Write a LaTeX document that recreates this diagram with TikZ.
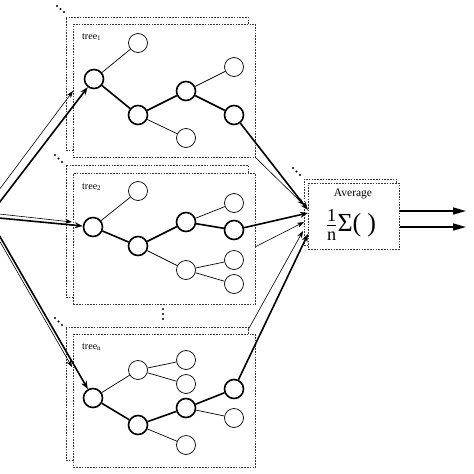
\documentclass[tikz,border=0pt]{standalone}
\usepackage{fontspec}
\setmainfont{Liberation Serif}
\usetikzlibrary{arrows.meta}
\begin{document}
\begin{tikzpicture}[x=1pt,y=-1pt,
  thk/.style={circle,draw,line width=1.6pt,minimum size=19pt,inner sep=0pt},
  thn/.style={circle,draw,line width=0.7pt,minimum size=19pt,inner sep=0pt},
  ethk/.style={line width=1.6pt},
  ethn/.style={line width=0.7pt},
  frame/.style={draw=black!80,dash pattern=on 1.6pt off 1.2pt,line width=0.7pt},
  fbox/.style={frame,anchor=north west,inner sep=0pt},
  inthk/.style={line width=1.6pt,-{Stealth[length=8pt,width=6pt]}},
  inthn/.style={line width=0.6pt,-{Stealth[length=7pt,width=5pt]}},
  outarr/.style={line width=1.4pt,-{Triangle[length=13pt,width=7pt]}},
  lbl/.style={font=\fontsize{10}{10}\selectfont,inner sep=0pt}
]
\useasboundingbox (0,0) rectangle (474,474);

% ---------- frames ----------
\node[fbox,minimum width=182pt,minimum height=133pt] (f1) at (73,24) {};
\draw[frame] (248,24) -- (248,17) -- (66,17) -- (66,150) -- (73,150);
\node[fbox,minimum width=182pt,minimum height=131pt] (f2) at (73,173) {};
\draw[frame] (248,173) -- (248,165) -- (66,165) -- (66,297) -- (73,297);
\node[fbox,minimum width=182pt,minimum height=133pt] (f3) at (73,334) {};
\draw[frame] (248,334) -- (248,327) -- (66,327) -- (66,460) -- (73,460);
\node[fbox,minimum width=91pt,minimum height=66pt] (fa) at (308,183) {};
\draw[frame] (396,183) -- (396,179) -- (304,179) -- (304,245) -- (308,245);

% dots
\foreach \x/\y in {57/6,60.5/9,64/12, 55/155,58.5/158.5,62/162, 55/318,58.5/321.5,62/325, 293/168,296.5/171.5,300/175}
  \fill (\x,\y) circle (1.1pt);
\foreach \y in {309,314,319} \fill (163,\y) circle (1.1pt);

% labels
\node[lbl,anchor=west] (l1) at (82,37) {tree\textsubscript{1}};
\node[lbl,anchor=west] (l2) at (82,187) {tree\textsubscript{2}};
\node[lbl,anchor=west] (l3) at (82,347) {tree\textsubscript{n}};
\node[font=\fontsize{11.5}{11.5}\selectfont,inner sep=0pt] (avl) at (353,194) {Average};
\node[font=\fontsize{26}{26}\selectfont,inner sep=0pt] (avf) at (351,225) {$\frac{\mathrm{1}}{\mathrm{n}}$Σ(\hspace{6pt})};

% ---------- tree 1 ----------
\node[thk] (a1) at (94,79) {};
\node[thn] (a1l) at (138,43) {};
\node[thk] (a2) at (138,115) {};
\node[thn] (a2l) at (186,138) {};
\node[thk] (a3) at (186,91) {};
\node[thn] (a3l) at (234,67) {};
\node[thk] (a4) at (234,115) {};
\draw[ethk] (a1) -- (a2); \draw[ethk] (a2) -- (a3); \draw[ethk] (a3) -- (a4);
\draw[ethn] (a1) -- (a1l); \draw[ethn] (a2) -- (a2l); \draw[ethn] (a3) -- (a3l);

% ---------- tree 2 ----------
\node[thk] (b1) at (93,227) {};
\node[thn] (b1l) at (138,191) {};
\node[thk] (b2) at (138,246) {};
\node[thk] (b3) at (186,222) {};
\node[thn] (b3l) at (234,203) {};
\node[thk] (b4) at (234,230) {};
\node[thn] (b5) at (186,270) {};
\node[thn] (b5a) at (234,260) {};
\node[thn] (b5b) at (234,284) {};
\draw[ethk] (b1) -- (b2); \draw[ethk] (b2) -- (b3); \draw[ethk] (b3) -- (b4);
\draw[ethn] (b1) -- (b1l); \draw[ethn] (b3) -- (b3l); \draw[ethn] (b2) -- (b5);
\draw[ethn] (b5) -- (b5a); \draw[ethn] (b5) -- (b5b);

% ---------- tree n ----------
\node[thk] (c1) at (93,398) {};
\node[thn] (c5) at (138,370) {};
\node[thn] (c5a) at (186,360) {};
\node[thn] (c5b) at (186,384) {};
\node[thk] (c2) at (138,425) {};
\node[thn] (c2l) at (186,445) {};
\node[thk] (c3) at (186,408) {};
\node[thn] (c3l) at (234,418) {};
\node[thk] (c4) at (234,389) {};
\draw[ethk] (c1) -- (c2); \draw[ethk] (c2) -- (c3); \draw[ethk] (c3) -- (c4);
\draw[ethn] (c1) -- (c5); \draw[ethn] (c5) -- (c5a); \draw[ethn] (c5) -- (c5b);
\draw[ethn] (c2) -- (c2l); \draw[ethn] (c3) -- (c3l);

% ---------- inputs ----------
\coordinate (s1a) at (-1,190); \coordinate (e1a) at (73,91);
\coordinate (s1b) at (-1,203);
\coordinate (s2a) at (-1,214); \coordinate (e2a) at (72,222);
\coordinate (s2b) at (-1,218);
\coordinate (s3a) at (-1,240); \coordinate (e3a) at (72,367);
\coordinate (s3b) at (-1,235);
\draw[inthn] (s1a) -- (e1a);
\draw[inthk] (s1b) -- (a1);
\draw[inthn] (s2a) -- (e2a);
\draw[inthk] (s2b) -- (b1);
\draw[inthn] (s3a) -- (e3a);
\draw[inthk] (s3b) -- (c1);

% ---------- to average ----------
\coordinate (t1a) at (304,205); \coordinate (t1b) at (308,210);
\coordinate (t2a) at (304,222); \coordinate (t2b) at (308,213);
\coordinate (t3a) at (303,231); \coordinate (t3b) at (308,234);
\coordinate (o1) at (255,157); \coordinate (o2) at (255,247); \coordinate (o3) at (248,330);
\draw[inthk] (a4) -- (t1b);
\draw[inthn] (o1) -- (t1a);
\draw[inthk] (b4) -- (t2b);
\draw[inthn] (o2) -- (t2a);
\draw[inthk] (c4) -- (t3b);
\draw[inthn] (o3) -- (t3a);

% ---------- outputs ----------
\coordinate (u1) at (466,211); \coordinate (u2) at (466,227);
\draw[outarr] (fa.east |- u1) -- (u1);
\draw[outarr] (fa.east |- u2) -- (u2);
\end{tikzpicture}
\end{document}
